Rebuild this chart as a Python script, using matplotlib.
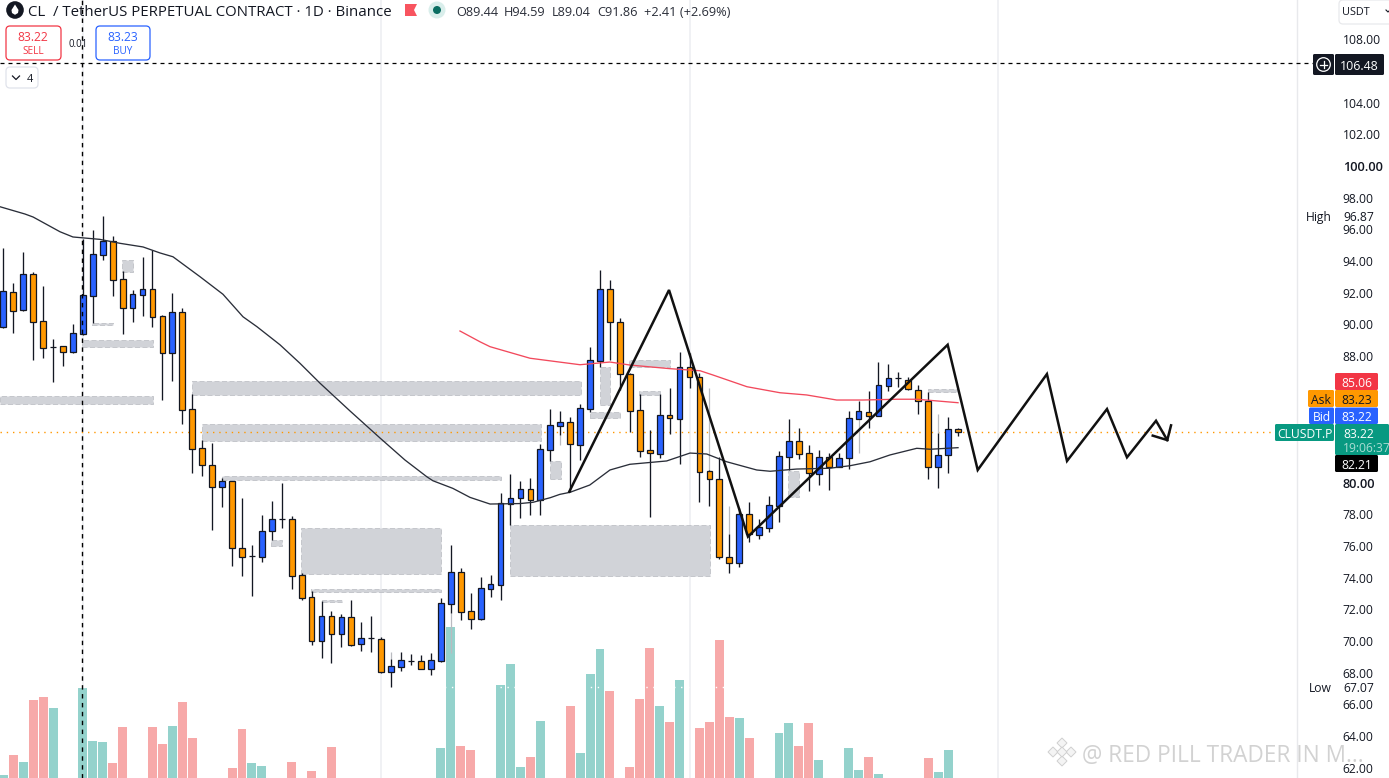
import matplotlib
matplotlib.use("Agg")
import numpy as np
import matplotlib.pyplot as plt
from matplotlib.patches import Rectangle, FancyBboxPatch, Circle, Polygon

W, H = 1389, 778
SCALE_X = 1297

opens = [
    89.85, 92.03, 90.89, 93.16, 90.19, 88.57, 88.61, 88.27, 89.37, 91.81,
    94.40, 95.25, 92.85, 91.05, 91.87, 92.22, 90.51, 88.21, 90.76, 84.63,
    82.17, 81.10, 79.75, 80.09, 75.85, 75.34, 75.32, 76.93, 77.68, 77.69,
    74.15, 72.76, 70.02, 71.56, 70.46, 71.50, 69.79, 70.16, 70.10, 68.02,
    68.37, 68.72, 68.72, 68.25, 68.75, 72.35, 74.34, 71.87, 71.41, 73.30,
    73.55, 78.67, 79.01, 79.58, 78.91, 82.06, 83.60, 83.81, 82.40, 84.67,
    87.70, 92.22, 90.13, 86.84, 84.57, 82.04, 81.83, 84.26, 84.04, 87.29,
    86.66, 80.72, 80.25, 75.29, 74.94, 78.00, 76.71, 77.15, 78.54, 81.64,
    82.61, 81.85, 80.57, 81.64, 81.01, 81.54, 84.04, 84.44, 84.23, 86.12,
    86.58, 86.50, 85.87, 85.14, 80.97, 81.73, 83.40,
]
closes = [
    92.11, 90.86, 93.16, 90.17, 88.53, 88.59, 88.27, 89.44, 91.84, 94.43,
    95.27, 92.82, 91.05, 91.90, 92.22, 90.48, 88.21, 90.76, 84.61, 82.15,
    81.14, 79.75, 80.09, 75.85, 75.32, 75.34, 76.93, 77.69, 77.68, 74.12,
    72.73, 70.02, 71.56, 70.46, 71.50, 69.76, 70.17, 70.16, 68.02, 68.40,
    68.78, 68.75, 68.25, 68.78, 72.38, 74.34, 71.85, 71.41, 73.33, 73.58,
    78.70, 79.01, 79.58, 78.92, 82.11, 83.62, 83.81, 82.46, 84.70, 87.73,
    92.22, 90.13, 86.84, 84.55, 82.02, 81.85, 84.26, 84.07, 87.29, 86.66,
    80.69, 80.25, 75.29, 74.94, 78.00, 76.74, 77.18, 78.57, 81.67, 82.61,
    81.83, 80.59, 81.64, 81.01, 81.54, 84.07, 84.51, 84.23, 86.15, 86.59,
    86.58, 85.90, 85.14, 80.97, 81.73, 83.37, 83.22,
]
highs = [
    94.80, 92.59, 94.55, 93.31, 92.42, 89.06, 88.63, 90.00, 95.39, 95.96,
    96.87, 95.58, 93.37, 92.17, 94.26, 94.70, 90.59, 91.96, 91.01, 85.58,
    82.70, 82.49, 80.30, 80.12, 79.01, 76.06, 77.96, 78.84, 79.98, 77.89,
    74.31, 73.16, 72.51, 71.87, 71.69, 72.59, 71.18, 71.58, 70.23, 68.84,
    69.28, 69.18, 69.09, 69.24, 72.70, 76.06, 74.59, 73.01, 74.02, 74.15,
    79.35, 80.55, 80.09, 80.30, 82.44, 84.65, 84.53, 84.13, 84.95, 88.55,
    93.43, 92.80, 90.38, 86.90, 85.60, 83.33, 85.60, 85.96, 88.24, 88.19,
    86.93, 80.80, 81.64, 76.76, 78.40, 78.76, 77.70, 79.16, 82.00, 84.02,
    83.43, 82.36, 82.06, 81.89, 81.85, 84.53, 85.16, 85.79, 87.60, 87.50,
    86.97, 86.69, 86.15, 85.75, 83.16, 84.13, 83.43,
]
lows = [
    89.79, 89.47, 90.85, 87.75, 87.89, 86.38, 87.39, 88.21, 89.33, 90.07,
    94.07, 91.79, 89.39, 90.15, 90.53, 89.85, 85.22, 86.42, 83.71, 80.61,
    80.44, 77.01, 78.48, 74.74, 74.10, 72.84, 75.01, 76.38, 77.14, 73.28,
    72.59, 69.75, 68.92, 68.63, 69.64, 69.70, 69.37, 69.30, 68.00, 67.07,
    68.10, 68.48, 68.23, 67.85, 68.67, 71.75, 71.33, 70.76, 71.33, 72.78,
    72.59, 77.33, 77.77, 77.96, 77.96, 81.37, 83.01, 79.43, 81.43, 84.46,
    87.33, 87.75, 85.85, 83.18, 81.64, 77.85, 81.58, 83.07, 81.18, 85.96,
    78.80, 78.53, 75.20, 74.31, 74.69, 76.27, 76.44, 76.90, 77.51, 80.80,
    81.51, 79.49, 79.85, 79.56, 81.00, 80.88, 84.02, 83.45, 84.20, 85.81,
    86.06, 85.88, 84.34, 80.23, 79.68, 80.63, 82.97,
]
volumes = [
    3, 23, 16, 78, 81, 70, 0, 0, 90, 37,
    36, 15, 51, 0, 0, 51, 34, 52, 76, 40,
    0, 0, 0, 10, 49, 15, 12, 0, 0, 16,
    0, 7, 0, 31, 0, 0, 0, 0, 0, 0,
    0, 0, 0, 0, 30, 151, 32, 28, 0, 0,
    93, 114, 11, 21, 57, 0, 0, 72, 25, 104,
    129, 87, 0, 11, 79, 130, 72, 56, 98, 0,
    50, 56, 138, 61, 60, 40, 0, 0, 45, 55,
    32, 55, 18, 0, 0, 30, 8, 21, 4, 0,
    0, 0, 0, 20, 6, 28, 0,
]

# wick parts that the chart shows washed out
faint_idx = [39, 45, 56, 71, 73, 86, 94]
faint_top = [69.28, 71.75, 83.01, 85.98, 78.53, 84.02, 84.34]
faint_bot = [68.84, 69.24, 82.38, 80.72, 76.76, 81.87, 83.16]

ma_black_x = [-0.33, 2.18, 3.0, 5.7, 7.0, 9.7, 11.73, 14.05, 15.76, 17.06, 19.78, 22.09,
              24.1, 25.51, 27.82, 29.83, 31.85, 34.86, 37.88, 40.39, 42.57, 43.2, 45.2,
              46.93, 48.94, 51.96, 53.27, 55.0, 55.96, 56.98, 58.97, 61.0, 63.0, 66.7,
              69.05, 70.73, 72.74, 75.76, 77.1, 79.78, 83.1, 85.14, 87.15, 89.16, 91.85,
              93.2, 96.0]
ma_black_y = [97.43, 96.97, 96.78, 95.85, 95.52, 95.37, 95.12, 94.89, 94.51, 94.27, 93.01, 91.90,
              90.48, 89.85, 88.71, 87.54, 86.28, 84.53, 82.82, 81.43, 80.38, 80.12, 79.64,
              79.07, 78.65, 78.68, 78.76, 79.05, 79.26, 79.39, 79.85, 80.80, 81.16, 81.37,
              81.87, 81.81, 81.32, 80.80, 80.72, 80.86, 80.91, 81.07, 81.32, 81.75, 82.17,
              82.11, 82.21]

ma_red_x = [45.92, 47.93, 48.94, 52.96, 57.99, 61.0, 63.0, 67.04, 70.06, 71.36, 74.78, 78.1,
            80.78, 83.8, 86.44, 89.83, 91.85, 96.0]
ma_red_y = [89.58, 88.90, 88.59, 87.86, 87.45, 87.62, 87.43, 87.20, 87.07, 86.80, 86.06, 85.68,
            85.54, 85.22, 85.22, 85.27, 85.27, 85.05]

path_x = [56.91, 66.94, 74.88, 94.96, 97.98, 104.94, 106.96, 110.98, 112.99, 115.91, 117.04]
path_y = [79.43, 92.17, 76.59, 88.71, 80.80, 86.86, 81.37, 84.65, 81.60, 83.91, 82.69]
arrow_x = [115.58, 117.04, 117.42]
arrow_y = [82.97, 82.69, 83.62]

box_left = [-0.33, 7.94, 11.97, 8.95, 18.97, 19.98, 22.0, 29.93, 30.94, 26.92, 32.0,
            50.98, 54.97, 60.0, 59.0, 62.92, 63.92, 78.93, 93.0]
box_right = [15.05, 15.05, 13.01, 11.03, 58.09, 54.07, 50.05, 43.98, 44.0, 28.02, 34.06,
             71.06, 56.08, 61.0, 62.0, 67.04, 66.03, 80.0, 96.0]
box_top = [85.47, 89.01, 94.07, 90.09, 86.42, 83.71, 80.42, 77.12, 73.26, 76.38, 72.57,
           77.33, 81.37, 87.31, 84.46, 87.75, 85.79, 80.74, 85.92]
box_bottom = [84.99, 88.59, 93.33, 89.96, 85.56, 82.65, 80.17, 74.25, 73.09, 76.00, 72.46,
              74.12, 80.25, 84.91, 84.10, 87.31, 85.56, 79.11, 85.73]

price_ticks = [108, 106, 104, 102, 100, 98, 96, 94, 92, 90, 88, 86, 84, 82, 80, 78,
               76, 74, 72, 70, 68, 66, 64, 62]
# these sit behind the price tags on the scale
hidden_ticks = [106, 86, 84, 82]
date_grid = [8, 38, 69, 100]

last_price = 83.22
cross_price = 106.48
cross_idx = 7.93
high_price = 96.87
low_price = 67.07

C_UP = "#2962ff"
C_DOWN = "#ff9800"
C_EDGE = "#131722"
C_VOL_UP = "#94d2cc"
C_VOL_DOWN = "#f7a9a9"
C_BOX = "#d1d3d8"
C_TEXT = "#131722"
C_GREEN = "#089981"
C_RED = "#f23645"

plt.rcParams["font.family"] = ["Open Sans", "DejaVu Sans"]

fig = plt.figure(figsize=(W / 100, H / 100), dpi=100, facecolor="white")
pos = [0, 0, SCALE_X / W, 1]
xlim = (-0.332, (SCALE_X - 3.3) / 9.945)

# volume goes on its own axes, underneath the candles
vol_ax = fig.add_axes(pos, zorder=1)
ax = fig.add_axes(pos, zorder=2)
ax.patch.set_visible(False)

x = np.arange(len(opens))
o = np.array(opens)
c = np.array(closes)
up = c >= o

vol_colors = [C_VOL_UP if u else C_VOL_DOWN for u in up]
vol_ax.bar(x, volumes, width=0.9, color=vol_colors, linewidth=0)
vol_ax.set_xlim(*xlim)
vol_ax.set_ylim(0, H)
vol_ax.set_yticks([])
vol_ax.set_xticks(date_grid)
vol_ax.tick_params(length=0, labelbottom=False)
vol_ax.grid(axis="x", color="#f0f1f4", linewidth=1.4)
vol_ax.set_axisbelow(True)
for s in vol_ax.spines.values():
    s.set_visible(False)

ax.set_xlim(*xlim)
ax.set_ylim(110.49 - H / 15.83, 110.49)
ax.set_xticks([])

for p in (high_price, low_price):
    ax.axhline(p, color="white", linewidth=1, dashes=(1, 4), zorder=1)

for l, r, t, b in zip(box_left, box_right, box_top, box_bottom):
    ax.add_patch(Rectangle((l, b), r - l, t - b, facecolor=C_BOX, edgecolor="#bfc1c6",
                           linewidth=0.6, linestyle=(0, (6, 3)), zorder=2))

ax.axhline(last_price, color=C_DOWN, linewidth=1, dashes=(1, 3.5), zorder=2.5)

ax.vlines(faint_idx, faint_bot, faint_top, color="#b9bbc0", linewidth=0.9, zorder=3)
ax.vlines(x, lows, np.minimum(o, c), color=C_EDGE, linewidth=0.95, zorder=3)
ax.vlines(x, np.maximum(o, c), highs, color=C_EDGE, linewidth=0.95, zorder=3)
body_colors = [C_UP if u else C_DOWN for u in up]
ax.bar(x, np.abs(c - o), bottom=np.minimum(o, c), width=0.58, color=body_colors,
       edgecolor=C_EDGE, linewidth=0.9, zorder=4)

ax.plot(ma_black_x, ma_black_y, color="#2a2e39", linewidth=0.95, zorder=5)
ax.plot(ma_red_x, ma_red_y, color="#f2495c", linewidth=0.95, zorder=5)
ax.plot(path_x, path_y, color="#111111", linewidth=1.8, solid_joinstyle="miter", zorder=6)
ax.plot(arrow_x, arrow_y, color="#111111", linewidth=1.8, solid_joinstyle="miter", zorder=6)

ax.axhline(cross_price, xmax=1313 / SCALE_X, color="black", linewidth=0.9,
           dashes=(3.2, 3.2), clip_on=False, zorder=7)
ax.axvline(cross_idx, color="black", linewidth=1, dashes=(3.2, 3.2), zorder=7)

ax.yaxis.tick_right()
ax.set_yticks(price_ticks)
ax.set_yticklabels(["" if p in hidden_ticks else f"{p:.2f}" for p in price_ticks])
ax.tick_params(axis="y", length=0, pad=33, labelsize=8.7, labelcolor=C_TEXT)
for lab, p in zip(ax.get_yticklabels(), price_ticks):
    if p in (100, 80):
        lab.set_fontweight("semibold")
        lab.set_fontsize(9.2)
for name, s in ax.spines.items():
    s.set_visible(name == "right")
ax.spines["right"].set_color("#e8e9ec")
ax.spines["right"].set_linewidth(1)

# everything below is chart chrome, laid out in pixels
ui = fig.add_axes([0, 0, 1, 1], zorder=3)
ui.set_xlim(0, W)
ui.set_ylim(H, 0)
ui.axis("off")


def tag(x0, x1, y0, y1, color, label, fg="white", size=8.7, ha="center"):
    ui.add_patch(FancyBboxPatch((x0 + 1, y0 + 1), x1 - x0 - 2, y1 - y0 - 2,
                                boxstyle="round,pad=1,rounding_size=1.5",
                                facecolor=color, edgecolor="none", zorder=5))
    tx = (x0 + x1) / 2 if ha == "center" else x0 + 4
    ui.text(tx, (y0 + y1) / 2, label, color=fg, fontsize=size, ha=ha, va="center_baseline", zorder=6)


def button(x0, x1, y0, y1, edge):
    ui.add_patch(FancyBboxPatch((x0 + 3, y0 + 3), x1 - x0 - 6, y1 - y0 - 6,
                                boxstyle="round,pad=3,rounding_size=4",
                                facecolor="white", edgecolor=edge, linewidth=0.9, zorder=5))


# header
ui.add_patch(Circle((15, 10), 8.8, facecolor="#131722", edgecolor="none"))
ui.add_patch(Polygon([[15, 4.5], [18.5, 10], [18, 13], [15, 14.8], [12, 13], [11.5, 10]],
                     closed=True, facecolor="white", edgecolor="none"))
ui.text(28, 10.5, "CL  / TetherUS PERPETUAL CONTRACT · 1D · Binance", fontsize=10.8, color=C_TEXT,
        va="center_baseline", ha="left")
ui.add_patch(Polygon([[405, 4], [417, 4], [414, 10], [417, 16], [405, 16]], closed=True,
                     facecolor="#f8545f", edgecolor="none"))
ui.add_patch(Circle((437, 10), 8.5, facecolor="#d9eeeb", edgecolor="none"))
ui.add_patch(Circle((437, 10), 4, facecolor="#0b6e62", edgecolor="none"))

ohlc_x = [456, 504, 551.5, 597, 644]
ohlc_txt = ["O89.44", "H94.59", "L89.04", "C91.86", "+2.41 (+2.69%)"]
for tx, s in zip(ohlc_x, ohlc_txt):
    ui.text(tx, 10.5, s, fontsize=9.2, color="#2a2e39", va="center_baseline")

# sell / buy
button(6, 61, 26, 60, C_RED)
ui.text(33, 35.5, "83.22", color=C_RED, fontsize=8.7, ha="center", va="center_baseline", zorder=6)
ui.text(33, 50, "SELL", color=C_RED, fontsize=7.2, ha="center", va="center_baseline", zorder=6)
button(96, 150, 26, 60, C_UP)
ui.text(123, 35.5, "83.23", color=C_UP, fontsize=8.7, ha="center", va="center_baseline", zorder=6)
ui.text(123, 50, "BUY", color=C_UP, fontsize=7.2, ha="center", va="center_baseline", zorder=6)
ui.text(78, 43, "0.01", color=C_TEXT, fontsize=6.9, ha="center", va="center_baseline", zorder=6)
button(6, 38, 67, 88, "#e0e3eb")
ui.plot([12.5, 16, 19.5], [76, 79.5, 76], color=C_TEXT, linewidth=0.9, zorder=6)
ui.text(29.5, 78, "4", color=C_TEXT, fontsize=7.8, ha="center", va="center_baseline", zorder=6)

# price scale extras
button(1339, 1395, 0, 24, "#e8e9ec")
ui.text(1342, 11, "USDT", color=C_TEXT, fontsize=7.8, ha="left", va="center_baseline", zorder=6)
ui.plot([1386, 1388, 1390], [10, 12, 10], color=C_TEXT, linewidth=0.8, zorder=6)
ui.text(1306, 215.5, "High", color=C_TEXT, fontsize=8.7, ha="left", va="center_baseline")
ui.text(1343, 215.5, "96.87", color=C_TEXT, fontsize=8.7, ha="left", va="center_baseline", zorder=4)
ui.text(1309, 687.5, "Low", color=C_TEXT, fontsize=8.7, ha="left", va="center_baseline")
ui.text(1343, 687.5, "67.07", color=C_TEXT, fontsize=8.7, ha="left", va="center_baseline", zorder=4)

tag(1313, 1334, 54, 75, C_EDGE, "")
ui.add_patch(Circle((1323.5, 64.5), 6.8, facecolor="none", edgecolor="white", linewidth=0.9, zorder=7))
ui.plot([1320, 1327], [64.5, 64.5], color="white", linewidth=0.9, zorder=7)
ui.plot([1323.5, 1323.5], [61, 68], color="white", linewidth=0.9, zorder=7)
tag(1335, 1384, 54, 75, C_EDGE, "106.48", size=8.9)

tag(1335, 1378, 373, 390, C_RED, "85.06")
tag(1308, 1334, 390, 407, C_DOWN, "Ask", fg=C_EDGE)
tag(1335, 1378, 390, 407, C_DOWN, "83.23", fg=C_EDGE)
tag(1309, 1334, 407.5, 424, C_UP, "Bid")
tag(1335, 1378, 407.5, 424, C_UP, "83.22")
tag(1275, 1334, 424, 441, C_GREEN, "CLUSDT.P")
tag(1335, 1389, 424, 455, C_GREEN, "")
ui.text(1343, 432.5, "83.22", color="white", fontsize=8.7, ha="left", va="center_baseline", zorder=6)
ui.text(1343, 447, "19:06:37", color="#a9dcd3", fontsize=8.7, ha="left", va="center_baseline", zorder=6)
tag(1335, 1378, 455, 472, "black", "82.21")

# watermark
for mx, my in [(1062, 743), (1053, 752), (1071, 752), (1062, 761), (1062, 752)]:
    ui.add_patch(Polygon([[mx, my - 5], [mx + 5, my], [mx, my + 5], [mx - 5, my]], closed=True,
                         facecolor="#f4f4f4", edgecolor="#cfcfcf", linewidth=0.7, zorder=8))
ui.text(1082, 753, "@ RED PILL TRADER IN M...", color="#d2d2d2", fontsize=16.3, ha="left",
        va="center_baseline", zorder=8)

fig.savefig("out.png", dpi=100)
